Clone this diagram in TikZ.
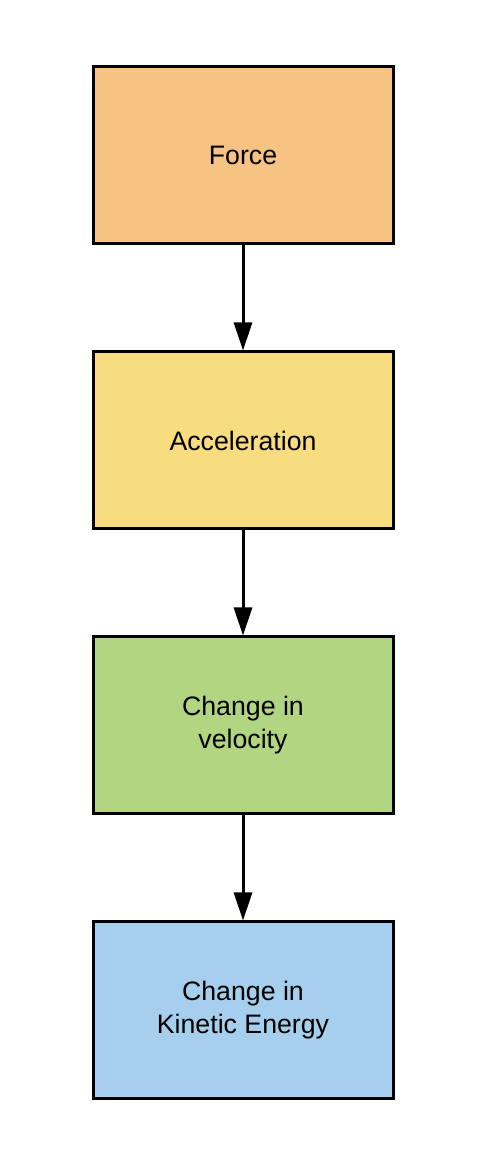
\documentclass[tikz,border=0pt]{standalone}
\usepackage{fontspec}
\setmainfont{Liberation Sans}
\usetikzlibrary{arrows.meta,positioning}
\definecolor{forcebg}{HTML}{F6C383}
\definecolor{accelbg}{HTML}{F8DD80}
\definecolor{velobg}{HTML}{B1D581}
\definecolor{energybg}{HTML}{A6CFEE}

\begin{document}
\begin{tikzpicture}[stage/.style={draw=black,line width=.06cm,minimum width=6cm,minimum height=3.54cm,align=center,font=\fontsize{15.2}{18.8}\selectfont},flow/.style={-{Triangle[length=.56cm,width=.36cm]},line width=.06cm}]
 \useasboundingbox (0,0) rectangle (9.72,23.28);
 \node[stage,fill=forcebg] (force) at (4.86,20.17) {Force};
 \node[stage,fill=accelbg,below=2.1cm of force] (accel) {Acceleration};
 \node[stage,fill=velobg,below=2.1cm of accel] (velo) {Change in\\velocity};
 \node[stage,fill=energybg,below=2.1cm of velo] (energy) {Change in\\Kinetic Energy};
 \draw[flow] (force) -- (accel);
 \draw[flow] (accel) -- (velo);
 \draw[flow] (velo) -- (energy);
\end{tikzpicture}
\end{document}
